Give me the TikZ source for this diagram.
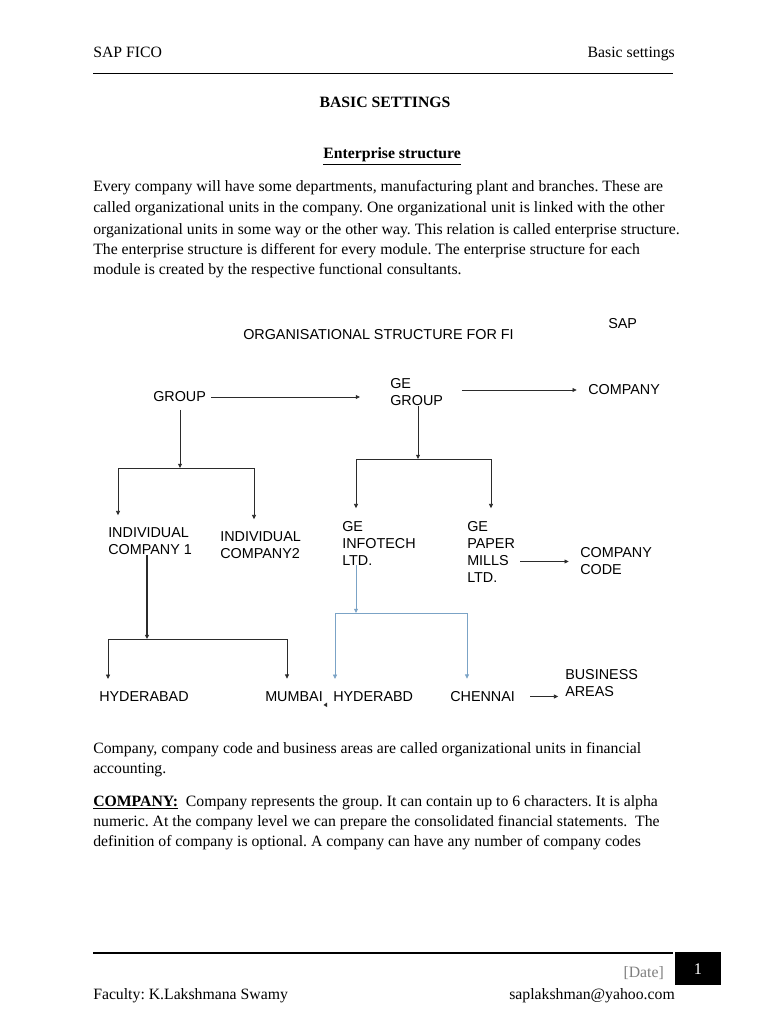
\documentclass[tikz,border=0pt]{standalone}
\usepackage{fontspec}
\setmainfont{Liberation Serif}
\newfontfamily\diagfont{Liberation Sans}
\usetikzlibrary{arrows.meta}
\definecolor{linegray}{HTML}{2B2B2B}
\definecolor{lineblue}{HTML}{7BA3C6}
\definecolor{dategray}{HTML}{7F7F7F}
\frenchspacing
\begin{document}
\begin{tikzpicture}[x=0.8pt,y=-0.8pt,
  body/.style={anchor=base west,inner sep=0pt,font=\fontsize{12.6}{15}\selectfont},
  lbl/.style={anchor=west,inner sep=0pt,align=left,font=\diagfont\fontsize{11.5}{13.6}\selectfont},
  arr/.style={draw=linegray,line width=0.6pt,-{Triangle[length=3.4pt,width=3.2pt]}},
  arrb/.style={arr,draw=lineblue,fill=lineblue},
  bar/.style={draw=linegray,line width=0.6pt},
  drop/.style={shorten >=10pt}]
\fill[white] (0,0) rectangle (768,1024);
\useasboundingbox (0,0) rectangle (768,1024);
% header
\node[body] (hleft) at (93,58) {SAP FICO};
\node[body,anchor=base east] (hright) at (675,58) {Basic settings};
\draw[line width=0.7pt] (93,73) -- (673,73);
\node[body,anchor=base,font=\bfseries\fontsize{12.6}{15}\selectfont] (title) at (385,108) {BASIC SETTINGS};
\node[body,anchor=base,font=\bfseries\fontsize{12.6}{15}\selectfont] (subtitle) at (392,159) {\underline{Enterprise structure}};
% first paragraph
\node[body] (p1) at (93,192) {Every company will have some departments, manufacturing plant and branches. These are};
\node[body] (p2) at (93,213) {called organizational units in the company. One organizational unit is linked with the other};
\node[body] (p3) at (93,234) {organizational units in some way or the other way. This relation is called enterprise structure.};
\node[body] (p4) at (93,254) {The enterprise structure is different for every module. The enterprise structure for each};
\node[body] (p5) at (93,274) {module is created by the respective functional consultants.};
% diagram
\node[lbl] (orgtitle) at (243,335) {ORGANISATIONAL STRUCTURE FOR FI};
\node[lbl] (sap) at (608,324) {SAP};
\node[lbl] (group) at (153,397) {GROUP};
\node[lbl] (gegroup) at (390,392) {GE\\GROUP};
\node[lbl] (company) at (588,390) {COMPANY};
\node[lbl] (ic1) at (108,541.5) {INDIVIDUAL\\COMPANY 1};
\node[lbl] (ic2) at (220,545.5) {INDIVIDUAL\\COMPANY2};
\node[lbl] (infotech) at (342,543) {GE\\INFOTECH\\LTD.};
\node[lbl] (paper) at (467,551.5) {GE\\PAPER\\MILLS\\LTD.};
\node[lbl] (ccode) at (580,561.5) {COMPANY\\CODE};
\node[lbl] (hyd) at (99,696.5) {HYDERABAD};
\node[lbl] (mumbai) at (265,696.5) {MUMBAI};
\node[lbl] (hydb) at (333,696.5) {HYDERABD};
\node[lbl] (chennai) at (450,696.5) {CHENNAI};
\node[lbl] (barea) at (565,683) {BUSINESS\\AREAS};
% horizontal arrows
\draw[arr,shorten <=4pt,shorten >=24pt] (group.east) -- (group.east -| gegroup.west);
\draw[arr,shorten <=15pt,shorten >=9pt] (gegroup.east |- company.west) -- (company.west);
\draw[arr,shorten <=4pt,shorten >=9pt] (paper.east |- ccode.west) -- (ccode.west);
\draw[arr,shorten <=12pt,shorten >=5.5pt] (chennai.east) -- (chennai.east -| barea.west);
% group tree
\coordinate (gj) at (180,468);
\coordinate (gl) at (118,468);
\coordinate (gr) at (254,468);
\draw[arr,shorten <=6pt] (group.south -| gj) -- (gj);
\draw[bar] (gl) -- (gr);
\foreach \c/\n in {gl/ic1,gr/ic2}
  \draw[arr,drop] (\c) -- (\c |- \n.north);
% ge group tree
\coordinate (ej) at (418,459);
\coordinate (el) at (356,459);
\coordinate (er) at (491,459);
\draw[arr] (gegroup.south -| ej) -- (ej);
\draw[bar] (el) -- (er);
\foreach \c/\n in {el/infotech,er/paper}
  \draw[arr,drop] (\c) -- (\c |- \n.north);
% company 1 tree
\coordinate (cj) at (147,639);
\coordinate (cl) at (108,639);
\coordinate (cr) at (287,639);
\draw[arr,line width=1pt] (ic1.south -| cj) -- (cj);
\draw[bar] (cl) -- (cr);
\foreach \c/\n in {cl/hyd,cr/mumbai}
  \draw[arr,drop] (\c) -- (\c |- \n.north);
% infotech tree
\coordinate (bj) at (356,613);
\coordinate (bl) at (335,613);
\coordinate (br) at (467,613);
\draw[arrb] (infotech.south -| bj) -- (bj);
\draw[bar,draw=lineblue] (bl) -- (br);
\foreach \c/\n in {bl/hydb,br/chennai}
  \draw[arrb,drop] (\c) -- (\c |- \n.north);
\coordinate (stray) at (323.5,705);
\fill[linegray] (stray) -- ++(3.5,-2.5) -- ++(0,4.5) -- cycle;
% second paragraph
\node[body] (q1) at (93,753) {Company, company code and business areas are called organizational units in financial};
\node[body] (q2) at (93,773) {accounting.};
\node[body] (r1) at (93,806) {\underline{\textbf{COMPANY:}}\ \ Company represents the group. It can contain up to 6 characters. It is alpha};
\node[body] (r2) at (93,826) {numeric. At the company level we can prepare the consolidated financial statements.\ \ The};
\node[body] (r3) at (93,846) {definition of company is optional. A company can have any number of company codes};
% footer
\draw[line width=1.6pt] (93,953) -- (673,953);
\node[body,anchor=base east,text=dategray] (date) at (664,977) {[Date]};
\fill[black] (675,952) rectangle (721,985);
\node[body,anchor=base,text=white,font=\fontsize{13}{15}\selectfont] (pageno) at (698,974) {1};
\node[body] (faculty) at (93,999) {Faculty: K.Lakshmana Swamy};
\node[body,anchor=base east] (mail) at (675,999) {saplakshman@yahoo.com};
\end{tikzpicture}
\end{document}
